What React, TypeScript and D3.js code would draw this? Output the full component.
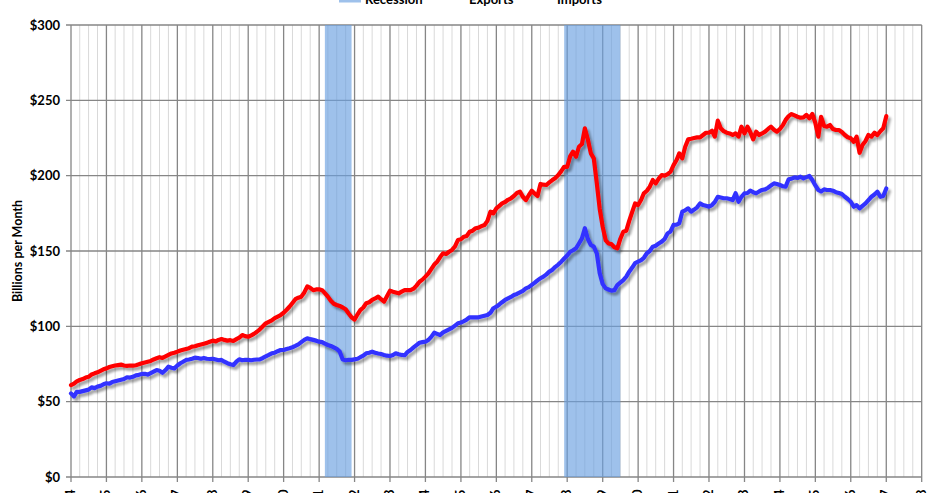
import React from "react";
import * as d3 from "d3";

// ---- Data (monthly, billions of US$, starting Jan 1994) ----
const START_YEAR = 1994;
const END_YEAR = 2018;

const EXPORTS: number[] = [
  // 1994
  55.5, 53.5, 56.5, 56.5, 57, 57.5, 58, 59.5, 59, 60, 60.5, 61.5,
  // 1995
  62.2, 62, 63, 63.5, 64, 64.5, 65, 66.2, 66, 66.5, 67.5, 67.8,
  // 1996
  68.4, 68.5, 68, 69, 70, 71, 70.5, 69.2, 71, 73.2, 72.5, 72.1,
  // 1997
  74, 75.5, 76.5, 77.7, 78, 78.5, 79.2, 79, 78.5, 79, 78.5, 78.3,
  // 1998
  78.5, 78, 77.5, 77.7, 76.5, 75.5, 74.8, 74.3, 76.5, 78.1, 77.5, 77.8,
  // 1999
  77.7, 77.5, 77.8, 78, 78.1, 79, 80, 81, 82.1, 82.5, 83.5, 84.3,
  // 2000
  84.3, 85, 85.5, 86.1, 87, 88, 89.5, 91, 92.1, 91.5, 91, 90.5,
  // 2001
  89.8, 89.5, 88.5, 87.6, 87, 86, 85, 83.2, 78, 77.5, 77.8, 77.7,
  // 2002
  78.1, 78.5, 79.5, 80.5, 82.1, 82.5, 83.2, 82.5, 82, 81.6, 81, 80.5,
  // 2003
  80.3, 81, 82.1, 81.5, 81, 80.8, 83, 84.3, 86, 87.5, 89.1, 89.5,
  // 2004
  89.8, 91, 93, 95.8, 95, 94.2, 96, 97, 98, 99, 100.5, 102,
  // 2005
  102.5, 103.5, 104.5, 106, 106, 106, 106, 106.5, 107, 107.5, 109, 112,
  // 2006
  113, 114.5, 116, 117.5, 118.5, 119.5, 120.8, 121.5, 122.5, 123.5, 125.2, 126,
  // 2007
  127.5, 129, 130.5, 131.9, 133, 134.5, 136.3, 137.5, 139.5, 141, 142.9, 145,
  // 2008
  147, 149.5, 150.5, 151.8, 155, 158.4, 165.1, 158, 154, 152.9, 148.5, 135.2,
  // 2009
  128, 125.2, 124.5, 123.7, 124, 127.4, 129, 130.7, 133, 136.3, 139, 142,
  // 2010
  143, 144, 145.5, 148.5, 150, 152.9, 153.5, 155, 156.2, 158, 161.7, 163,
  // 2011
  167.3, 167.5, 168.4, 176.1, 177, 178.3, 176.1, 177.5, 179, 181.6, 180.5, 180,
  // 2012
  179.4, 180.5, 182.5, 186, 185.5, 185, 185, 184.5, 183.8, 188.3, 182.7, 186,
  // 2013
  188.3, 188.5, 190, 189, 188.3, 189.5, 190.5, 190.9, 192, 193.5, 194.9, 194.5,
  // 2014
  193.8, 193, 192.7, 197.6, 198, 198.9, 198.5, 199.3, 198.2, 199, 199.8, 197.1,
  // 2015
  193.5, 190.5, 189.5, 190.9, 190.5, 190.5, 190, 189, 188.5, 187.8, 186, 184.5,
  // 2016
  182.7, 179.4, 180.5, 178.3, 180, 181.6, 183.8, 186, 187.5, 189.4, 186, 186.5,
  // 2017
  191.5,
];

const IMPORTS: number[] = [
  // 1994
  61, 62, 63.5, 64.4, 65, 66, 66.5, 68, 68.8, 69.5, 70.5, 71.5,
  // 1995
  72.1, 73, 73.5, 74, 74.3, 74.6, 74, 73.8, 74, 73.9, 74.2, 74.8,
  // 1996
  75.5, 76, 76.5, 77, 78, 78.8, 79.5, 79, 80, 81, 82, 82.5,
  // 1997
  83.2, 84, 84.5, 85, 85.5, 86.5, 86.8, 87.5, 88, 88.5, 89, 89.8,
  // 1998
  90.5, 90, 91, 91.6, 91, 90.5, 90.8, 90.3, 91.5, 92.5, 94.2, 93.5,
  // 1999
  93.1, 94, 95, 96.4, 98, 100, 102, 103, 104, 105.5, 106.5, 107.5,
  // 2000
  109, 111, 113, 115.5, 118, 119, 119.7, 122.5, 126.5, 125.5, 124, 124.5,
  // 2001
  124.6, 124, 122, 119.7, 117, 115, 114.2, 113.5, 112.5, 111.3, 108.5, 106,
  // 2002
  104.5, 108, 110.8, 112.5, 115.3, 116, 117.5, 118.5, 119.7, 118, 116.4, 120,
  // 2003
  123.7, 123, 122.5, 121.9, 123, 124, 124.1, 124, 125, 127, 129.6, 131,
  // 2004
  133, 135.2, 138, 141, 142.9, 146, 148.5, 148, 149.5, 150.7, 153, 157.3,
  // 2005
  157.8, 159.5, 160, 162.8, 163.5, 165.1, 165.5, 166.5, 167.3, 170, 176.1, 175,
  // 2006
  178.3, 180, 181.6, 182.5, 184, 185, 186.5, 188.5, 189.4, 186, 183.8, 187,
  // 2007
  190, 188, 186.5, 194.5, 194, 193.8, 195.5, 197.1, 198.5, 200.4, 203, 205.9,
  // 2008
  205.9, 213, 215.9, 212.6, 219.2, 221, 231.4, 224, 214.8, 211.5, 195, 178,
  // 2009
  166, 157, 155, 154.6, 152.5, 151.8, 158, 162.8, 163.5, 170, 176, 181.6,
  // 2010
  180.5, 184, 188.3, 190, 192.7, 197.1, 194.9, 198, 200.4, 200, 201, 202.6,
  // 2011
  207, 210.4, 214.8, 211.5, 219.2, 224.1, 224.5, 225, 225.4, 225.4, 227, 228.5,
  // 2012
  228.5, 229.8, 225.9, 236.5, 231.5, 229.5, 228.5, 228, 227, 228.1, 225.9, 232.5,
  // 2013
  228.1, 232.5, 229, 224.1, 229.2, 227, 228, 229.2, 231, 232.5, 230.5, 229.2,
  // 2014
  231, 233.6, 237, 239.5, 240.9, 240, 239.1, 238.5, 238.7, 240.3, 238.1, 240.9,
  // 2015
  235, 225.9, 239.1, 233, 232.5, 233.6, 231, 230.3, 230.3, 229, 227, 225.5,
  // 2016
  224.8, 222.5, 225.9, 215.2, 220.3, 223, 227, 225.9, 228.5, 227, 229.5, 231.4,
  // 2017
  239.5,
];

// Recessions: [first month, last month] as "YYYY-MM"
const RECESSIONS: [string, string][] = [
  ["2001-03", "2001-11"],
  ["2007-12", "2009-06"],
];

const Y_TICKS = [0, 50, 100, 150, 200, 250, 300];
const Y_TITLE = "Billions per Month";
const LEGEND_LABELS = ["Recession", "Exports", "Imports"];

const W = 940;
const H = 493;
const M = { left: 71, right: 921.7, top: 25, bottom: 477 };

const FONT = "Lato, 'Open Sans', 'DejaVu Sans', sans-serif";
const RED = "#ff0000";
const BLUE = "#3333ff";

function monthDate(i: number) {
  return d3.timeMonth.offset(new Date(START_YEAR, 0, 1), i);
}
function parseYM(s: string) {
  const [y, m] = s.split("-").map(Number);
  return new Date(y, m - 1, 1);
}

export default function App() {
  const x = d3
    .scaleTime()
    .domain([new Date(START_YEAR, 0, 1), new Date(END_YEAR, 0, 1)])
    .range([M.left, M.right]);
  const y = d3.scaleLinear().domain([0, 300]).range([M.bottom, M.top]);

  const years = d3.timeYear.range(new Date(START_YEAR, 0, 1), new Date(END_YEAR, 0, 2));
  const quarters = d3
    .timeMonth.every(3)!
    .range(new Date(START_YEAR, 0, 1), new Date(END_YEAR, 0, 1))
    .filter((d) => d.getMonth() !== 0);

  const line = d3
    .line<number>()
    .x((_, i) => x(monthDate(i)))
    .y((v) => y(v))
    .curve(d3.curveLinear);

  const fmtLabel = d3.timeFormat("%b-%y");

  return (
    <svg
      width={W}
      height={H}
      style={{ position: "absolute", left: 0, top: 0, display: "block", background: "#fff" }}
      fontFamily={FONT}
    >
      <defs>
        <filter id="shadow" x="-5%" y="-10%" width="110%" height="130%">
          <feDropShadow dx="2.5" dy="3" stdDeviation="1.3" floodColor="#000" floodOpacity="0.35" />
        </filter>
      </defs>

      {/* minor vertical grid (quarters) */}
      {quarters.map((d, i) => (
        <line key={"q" + i} x1={x(d)} x2={x(d)} y1={M.top} y2={M.bottom} stroke="#d9d9d9" strokeWidth={1} />
      ))}
      {/* major vertical grid (years) */}
      {years.map((d, i) => (
        <line key={"y" + i} x1={x(d)} x2={x(d)} y1={M.top} y2={M.bottom + 5} stroke="#868686" strokeWidth={1.3} />
      ))}
      {/* horizontal grid */}
      {Y_TICKS.map((t) => (
        <line key={"h" + t} x1={M.left - 5} x2={M.right} y1={y(t)} y2={y(t)} stroke="#868686" strokeWidth={1.3} />
      ))}

      {/* recession bars */}
      {RECESSIONS.map(([s, e], i) => {
        const x0 = x(parseYM(s));
        const x1 = x(d3.timeMonth.offset(parseYM(e), 1));
        return (
          <rect
            key={"r" + i}
            x={x0}
            y={M.top}
            width={x1 - x0}
            height={M.bottom - M.top}
            fill="#6a9fe0"
            fillOpacity={0.65}
          />
        );
      })}

      {/* y tick labels */}
      {Y_TICKS.map((t) => (
        <text key={"yl" + t} x={60} y={y(t)} dy="0.36em" textAnchor="end" fontSize={13} fontWeight="bold" fill="#000">
          {"$" + t}
        </text>
      ))}

      {/* y title */}
      <text
        transform={`translate(22,${(M.top + M.bottom) / 2}) rotate(-90)`}
        textAnchor="middle"
        fontSize={12.5}
        fontWeight="bold"
        fill="#000"
      >
        {Y_TITLE}
      </text>

      {/* x tick labels (mostly cut off at the bottom, as in the source) */}
      {years.map((d, i) => (
        <text
          key={"xl" + i}
          transform={`translate(${x(d) + 4},489.5) rotate(-90)`}
          textAnchor="end"
          fontSize={13}
          fontWeight="bold"
          fill="#000"
        >
          {fmtLabel(d)}
        </text>
      ))}

      {/* series */}
      <path d={line(IMPORTS) || ""} fill="none" stroke={RED} strokeWidth={4.2} strokeLinejoin="round" strokeLinecap="round" filter="url(#shadow)" />
      <path d={line(EXPORTS) || ""} fill="none" stroke={BLUE} strokeWidth={4.2} strokeLinejoin="round" strokeLinecap="round" filter="url(#shadow)" />

      {/* legend (cut off at top, as in the source) */}
      <rect x={339} y={-8} width={22} height={10.5} fill="#6a9fe0" fillOpacity={0.65} />
      <text x={365} y={4} fontSize={13} fontWeight="bold" fill="#000">{LEGEND_LABELS[0]}</text>
      <line x1={442} x2={464} y1={-4} y2={-4} stroke={BLUE} strokeWidth={4} />
      <text x={469} y={4} fontSize={13} fontWeight="bold" fill="#000">{LEGEND_LABELS[1]}</text>
      <line x1={530} x2={552} y1={-4} y2={-4} stroke={RED} strokeWidth={4} />
      <text x={557} y={4} fontSize={13} fontWeight="bold" fill="#000">{LEGEND_LABELS[2]}</text>
    </svg>
  );
}
